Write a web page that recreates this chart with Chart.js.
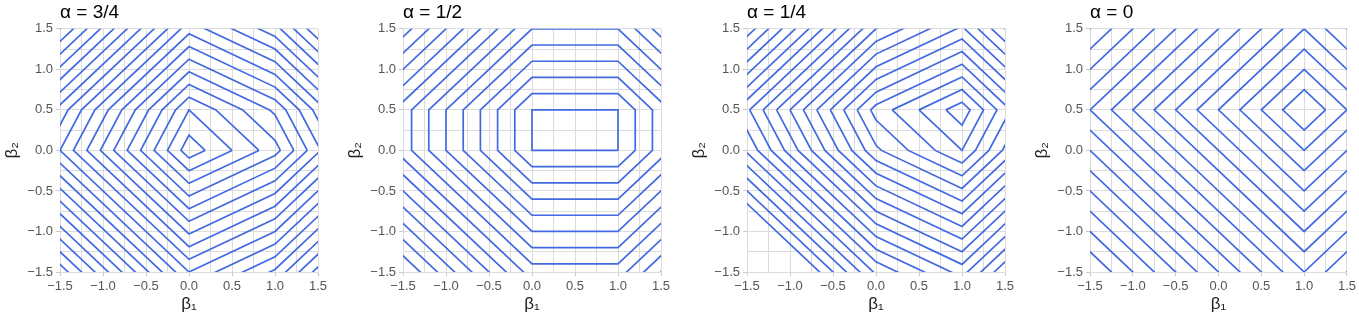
<!DOCTYPE html>
<html>
<head>
<meta charset="utf-8">
<script src="https://cdn.jsdelivr.net/npm/chart.js@4.4.0/dist/chart.umd.min.js"></script>
<style>
  html, body { margin: 0; padding: 0; background: #fff; }
  body { width: 1359px; height: 315px; position: relative; overflow: hidden; }
  .panel { position: absolute; top: 0; height: 315px; }
</style>
</head>
<body>
<div class="panel" style="left:0px"><canvas id="p0" width="343" height="315"></canvas></div>
<div class="panel" style="left:343px"><canvas id="p1" width="343" height="315"></canvas></div>
<div class="panel" style="left:687px"><canvas id="p2" width="343" height="315"></canvas></div>
<div class="panel" style="left:1030px"><canvas id="p3" width="329" height="315"></canvas></div>
<script>
// panel titles and axis ticks
const titles = ['α = 3/4', 'α = 1/2', 'α = 1/4', 'α = 0'];
const labeledTicks = [-1.5, -1.0, -0.5, 0.0, 0.5, 1.0, 1.5];

// contour polygons [beta1, beta2], one list per panel
const contours34 = [
  [[0.188, 0], [0, 0.188], [-0.094, 0], [0, -0.094]],
  [[0.5, 0], [0, 0.5], [-0.25, 0], [0, -0.25]],
  [[0.813, 0], [0.313, 0.5], [0, 0.656], [-0.156, 0.5], [-0.406, 0], [0, -0.406]],
  [[1.063, 0], [1, 0.125], [0.625, 0.5], [0, 0.813], [-0.313, 0.5], [-0.563, 0], [0, -0.563], [1, -0.063]],
  [[1.219, 0], [1, 0.438], [0.938, 0.5], [0, 0.969], [-0.469, 0.5], [-0.719, 0], [0, -0.719], [1, -0.219]],
  [[1.375, 0], [1.125, 0.5], [1, 0.625], [0, 1.125], [-0.625, 0.5], [-0.875, 0], [0, -0.875], [1, -0.375]],
  [[1.531, 0], [1.281, 0.5], [1, 0.781], [0, 1.281], [-0.781, 0.5], [-1.031, 0], [0, -1.031], [1, -0.531]],
  [[1.688, 0], [1.438, 0.5], [1, 0.938], [0, 1.438], [-0.938, 0.5], [-1.188, 0], [0, -1.188], [1, -0.688]],
  [[1.844, 0], [1.594, 0.5], [1, 1.094], [0, 1.594], [-1.094, 0.5], [-1.344, 0], [0, -1.344], [1, -0.844]],
  [[2, 0], [1.75, 0.5], [1, 1.25], [0, 1.75], [-1.25, 0.5], [-1.5, 0], [0, -1.5], [1, -1]],
  [[2.156, 0], [1.906, 0.5], [1, 1.406], [0, 1.906], [-1.406, 0.5], [-1.656, 0], [0, -1.656], [1, -1.156]],
  [[2.313, 0], [2.063, 0.5], [1, 1.563], [0, 2.063], [-1.563, 0.5], [-1.813, 0], [0, -1.813], [1, -1.313]],
  [[2.469, 0], [2.219, 0.5], [1, 1.719], [0, 2.219], [-1.719, 0.5], [-1.969, 0], [0, -1.969], [1, -1.469]],
  [[2.625, 0], [2.375, 0.5], [1, 1.875], [0, 2.375], [-1.875, 0.5], [-2.125, 0], [0, -2.125], [1, -1.625]],
  [[2.781, 0], [2.531, 0.5], [1, 2.031], [0, 2.531], [-2.031, 0.5], [-2.281, 0], [0, -2.281], [1, -1.781]],
  [[2.938, 0], [2.688, 0.5], [1, 2.188], [0, 2.688], [-2.188, 0.5], [-2.438, 0], [0, -2.438], [1, -1.938]],
  [[3.094, 0], [2.844, 0.5], [1, 2.344], [0, 2.844], [-2.344, 0.5], [-2.594, 0], [0, -2.594], [1, -2.094]],
  [[3.25, 0], [3, 0.5], [1, 2.5], [0, 3], [-2.5, 0.5], [-2.75, 0], [0, -2.75], [1, -2.25]],
  [[3.406, 0], [3.156, 0.5], [1, 2.656], [0, 3.156], [-2.656, 0.5], [-2.906, 0], [0, -2.906], [1, -2.406]]
];

const contours12 = [
  [[1, 0], [1, 0.5], [0, 0.5], [0, 0]],
  [[1.2, 0], [1.2, 0.5], [1, 0.7], [0, 0.7], [-0.2, 0.5], [-0.2, 0], [0, -0.2], [1, -0.2]],
  [[1.4, 0], [1.4, 0.5], [1, 0.9], [0, 0.9], [-0.4, 0.5], [-0.4, 0], [0, -0.4], [1, -0.4]],
  [[1.6, 0], [1.6, 0.5], [1, 1.1], [0, 1.1], [-0.6, 0.5], [-0.6, 0], [0, -0.6], [1, -0.6]],
  [[1.8, 0], [1.8, 0.5], [1, 1.3], [0, 1.3], [-0.8, 0.5], [-0.8, 0], [0, -0.8], [1, -0.8]],
  [[2.0, 0], [2.0, 0.5], [1, 1.5], [0, 1.5], [-1.0, 0.5], [-1.0, 0], [0, -1.0], [1, -1.0]],
  [[2.2, 0], [2.2, 0.5], [1, 1.7], [0, 1.7], [-1.2, 0.5], [-1.2, 0], [0, -1.2], [1, -1.2]],
  [[2.4, 0], [2.4, 0.5], [1, 1.9], [0, 1.9], [-1.4, 0.5], [-1.4, 0], [0, -1.4], [1, -1.4]],
  [[2.6, 0], [2.6, 0.5], [1, 2.1], [0, 2.1], [-1.6, 0.5], [-1.6, 0], [0, -1.6], [1, -1.6]],
  [[2.8, 0], [2.8, 0.5], [1, 2.3], [0, 2.3], [-1.8, 0.5], [-1.8, 0], [0, -1.8], [1, -1.8]],
  [[3.0, 0], [3.0, 0.5], [1, 2.5], [0, 2.5], [-2.0, 0.5], [-2.0, 0], [0, -2.0], [1, -2.0]],
  [[3.2, 0], [3.2, 0.5], [1, 2.7], [0, 2.7], [-2.2, 0.5], [-2.2, 0], [0, -2.2], [1, -2.2]],
  [[3.4, 0], [3.4, 0.5], [1, 2.9], [0, 2.9], [-2.4, 0.5], [-2.4, 0], [0, -2.4], [1, -2.4]],
  [[3.6, 0], [3.6, 0.5], [1, 3.1], [0, 3.1], [-2.6, 0.5], [-2.6, 0], [0, -2.6], [1, -2.6]],
  [[3.8, 0], [3.8, 0.5], [1, 3.3], [0, 3.3], [-2.8, 0.5], [-2.8, 0], [0, -2.8], [1, -2.8]]
];

const contours14 = [
  [[0.813, 0.5], [1, 0.313], [1.094, 0.5], [1, 0.594]],
  [[0.5, 0.5], [1, 0], [1.25, 0.5], [1, 0.75]],
  [[0.188, 0.5], [0.688, 0], [1, -0.156], [1.156, 0], [1.406, 0.5], [1, 0.906]],
  [[-0.063, 0.5], [0, 0.375], [0.375, 0], [1, -0.313], [1.313, 0], [1.563, 0.5], [1, 1.063], [0, 0.563]],
  [[-0.219, 0.5], [0, 0.063], [0.063, 0], [1, -0.469], [1.469, 0], [1.719, 0.5], [1, 1.219], [0, 0.719]],
  [[-0.375, 0.5], [-0.125, 0], [0, -0.125], [1, -0.625], [1.625, 0], [1.875, 0.5], [1, 1.375], [0, 0.875]],
  [[-0.531, 0.5], [-0.281, 0], [0, -0.281], [1, -0.781], [1.781, 0], [2.031, 0.5], [1, 1.531], [0, 1.031]],
  [[-0.688, 0.5], [-0.438, 0], [0, -0.438], [1, -0.938], [1.938, 0], [2.188, 0.5], [1, 1.688], [0, 1.188]],
  [[-0.844, 0.5], [-0.594, 0], [0, -0.594], [1, -1.094], [2.094, 0], [2.344, 0.5], [1, 1.844], [0, 1.344]],
  [[-1, 0.5], [-0.75, 0], [0, -0.75], [1, -1.25], [2.25, 0], [2.5, 0.5], [1, 2], [0, 1.5]],
  [[-1.156, 0.5], [-0.906, 0], [0, -0.906], [1, -1.406], [2.406, 0], [2.656, 0.5], [1, 2.156], [0, 1.656]],
  [[-1.313, 0.5], [-1.063, 0], [0, -1.063], [1, -1.563], [2.563, 0], [2.813, 0.5], [1, 2.313], [0, 1.813]],
  [[-1.469, 0.5], [-1.219, 0], [0, -1.219], [1, -1.719], [2.719, 0], [2.969, 0.5], [1, 2.469], [0, 1.969]],
  [[-1.625, 0.5], [-1.375, 0], [0, -1.375], [1, -1.875], [2.875, 0], [3.125, 0.5], [1, 2.625], [0, 2.125]],
  [[-1.781, 0.5], [-1.531, 0], [0, -1.531], [1, -2.031], [3.031, 0], [3.281, 0.5], [1, 2.781], [0, 2.281]],
  [[-1.938, 0.5], [-1.688, 0], [0, -1.688], [1, -2.188], [3.188, 0], [3.438, 0.5], [1, 2.938], [0, 2.438]],
  [[-2.094, 0.5], [-1.844, 0], [0, -1.844], [1, -2.344], [3.344, 0], [3.594, 0.5], [1, 3.094], [0, 2.594]],
  [[-2.25, 0.5], [-2, 0], [0, -2], [1, -2.5], [3.5, 0], [3.75, 0.5], [1, 3.25], [0, 2.75]],
  [[-2.406, 0.5], [-2.156, 0], [0, -2.156], [1, -2.656], [3.656, 0], [3.906, 0.5], [1, 3.406], [0, 2.906]]
];

const contours0 = [
  [[1.25, 0.5], [1, 0.75], [0.75, 0.5], [1, 0.25]],
  [[1.5, 0.5], [1, 1], [0.5, 0.5], [1, 0]],
  [[1.75, 0.5], [1, 1.25], [0.25, 0.5], [1, -0.25]],
  [[2, 0.5], [1, 1.5], [0, 0.5], [1, -0.5]],
  [[2.25, 0.5], [1, 1.75], [-0.25, 0.5], [1, -0.75]],
  [[2.5, 0.5], [1, 2], [-0.5, 0.5], [1, -1]],
  [[2.75, 0.5], [1, 2.25], [-0.75, 0.5], [1, -1.25]],
  [[3, 0.5], [1, 2.5], [-1, 0.5], [1, -1.5]],
  [[3.25, 0.5], [1, 2.75], [-1.25, 0.5], [1, -1.75]],
  [[3.5, 0.5], [1, 3], [-1.5, 0.5], [1, -2]],
  [[3.75, 0.5], [1, 3.25], [-1.75, 0.5], [1, -2.25]],
  [[4, 0.5], [1, 3.5], [-2, 0.5], [1, -2.5]],
  [[4.25, 0.5], [1, 3.75], [-2.25, 0.5], [1, -2.75]],
  [[4.5, 0.5], [1, 4], [-2.5, 0.5], [1, -3]],
  [[4.75, 0.5], [1, 4.25], [-2.75, 0.5], [1, -3.25]],
  [[5, 0.5], [1, 4.5], [-3, 0.5], [1, -3.5]],
  [[5.25, 0.5], [1, 4.75], [-3.25, 0.5], [1, -3.75]]
];

const panels = [contours34, contours12, contours14, contours0];

const FONT = '"Liberation Sans", Arial, sans-serif';
const lineColor = '#4169e1';
const gridColor = '#dcdcdc';

function isLabeled(v) {
  return labeledTicks.some(t => Math.abs(t - v) < 1e-9);
}

function fmt(v) {
  return isLabeled(v) ? v.toFixed(1).replace('-', '\u2212') : '';
}

function makeAxis(title, isX) {
  return {
    type: 'linear',
    min: -1.5,
    max: 1.5,
    grid: {
      color: gridColor,
      lineWidth: 1,
      tickLength: 4,
      tickColor: ctx => (ctx.tick && isLabeled(ctx.tick.value)) ? '#c8c8c8' : 'rgba(0,0,0,0)'
    },
    border: { color: gridColor },
    ticks: {
      stepSize: 0.25,
      autoSkip: false,
      maxRotation: 0,
      padding: 3,
      color: '#555',
      font: { family: FONT, size: 13 },
      callback: v => fmt(v)
    },
    title: {
      display: true,
      text: title,
      color: '#222',
      font: { family: FONT, size: 17 },
      padding: isX ? { top: 0, bottom: 0 } : { top: 2, bottom: 0 }
    },
    afterFit: s => {
      if (isX) s.height = 43; else s.width = 60;
    }
  };
}

panels.forEach((list, i) => {
  const canvas = document.getElementById('p' + i);
  const datasets = list.map(poly => ({
    data: poly.concat([poly[0]]).map(p => ({ x: p[0], y: p[1] })),
    showLine: true,
    borderColor: lineColor,
    borderWidth: 1.7,
    pointRadius: 0,
    fill: false,
    tension: 0,
    clip: 0
  }));
  new Chart(canvas.getContext('2d'), {
    type: 'scatter',
    data: { datasets: datasets },
    options: {
      responsive: false,
      animation: false,
      events: [],
      layout: { padding: { left: 0, right: canvas.width - 60 - 258, top: 0, bottom: 0 } },
      plugins: {
        legend: { display: false },
        tooltip: { enabled: false },
        title: {
          display: true,
          text: titles[i],
          align: 'start',
          fullSize: false,
          color: '#000',
          font: { family: FONT, size: 19, weight: 'normal' },
          padding: { top: 1, bottom: 5 }
        }
      },
      scales: {
        x: makeAxis('β₁', true),
        y: makeAxis('β₂', false)
      }
    }
  });
});
</script>
</body>
</html>
